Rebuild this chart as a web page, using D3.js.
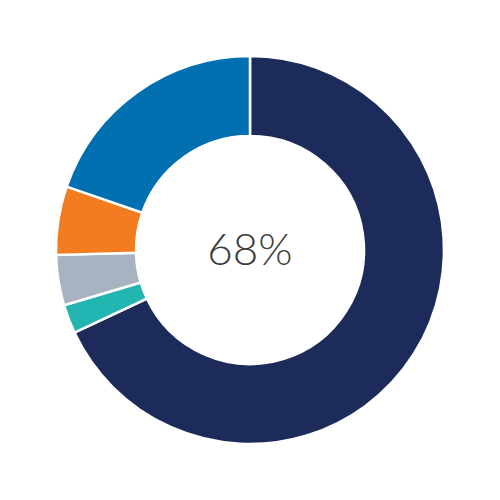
<!DOCTYPE html>
<html>
<head>
<meta charset="utf-8">
<script src="https://cdn.jsdelivr.net/npm/d3@7"></script>
<style>body{margin:0;background:#fff}</style>
</head>
<body>
<div id="root"></div>
<script>
// slice values, clockwise from the top
const labels = ['Main', 'Teal', 'Gray', 'Orange', 'Blue']
const values = [68, 2.4, 4.2, 5.7, 19.7]
const colors = ['#1c2b59', '#22b5b2', '#a8b3c2', '#f37b20', '#0070b0']
const centerLabel = '68%'

const w = 500, h = 500

const svg = d3.select('#root')
    .append('svg')
    .attr('width', w)
    .attr('height', h)

const g = svg.append('g').attr('transform', 'translate(250,250)')

const pie = d3.pie().sort(null).value(d => d)
const arc = d3.arc().innerRadius(114).outerRadius(194)

g.selectAll('path')
    .data(pie(values))
    .enter()
    .append('path')
    .attr('d', arc)
    .attr('fill', (d, i) => colors[i])
    .attr('stroke', '#fff')
    .attr('stroke-width', 2.5)

g.append('text')
    .attr('text-anchor', 'middle')
    .attr('dy', '0.35em')
    .attr('font-family', 'Lato, sans-serif')
    .attr('font-weight', 300)
    .attr('font-size', 44)
    .attr('fill', '#3d3d3d')
    .text(centerLabel)
</script>
</body>
</html>
